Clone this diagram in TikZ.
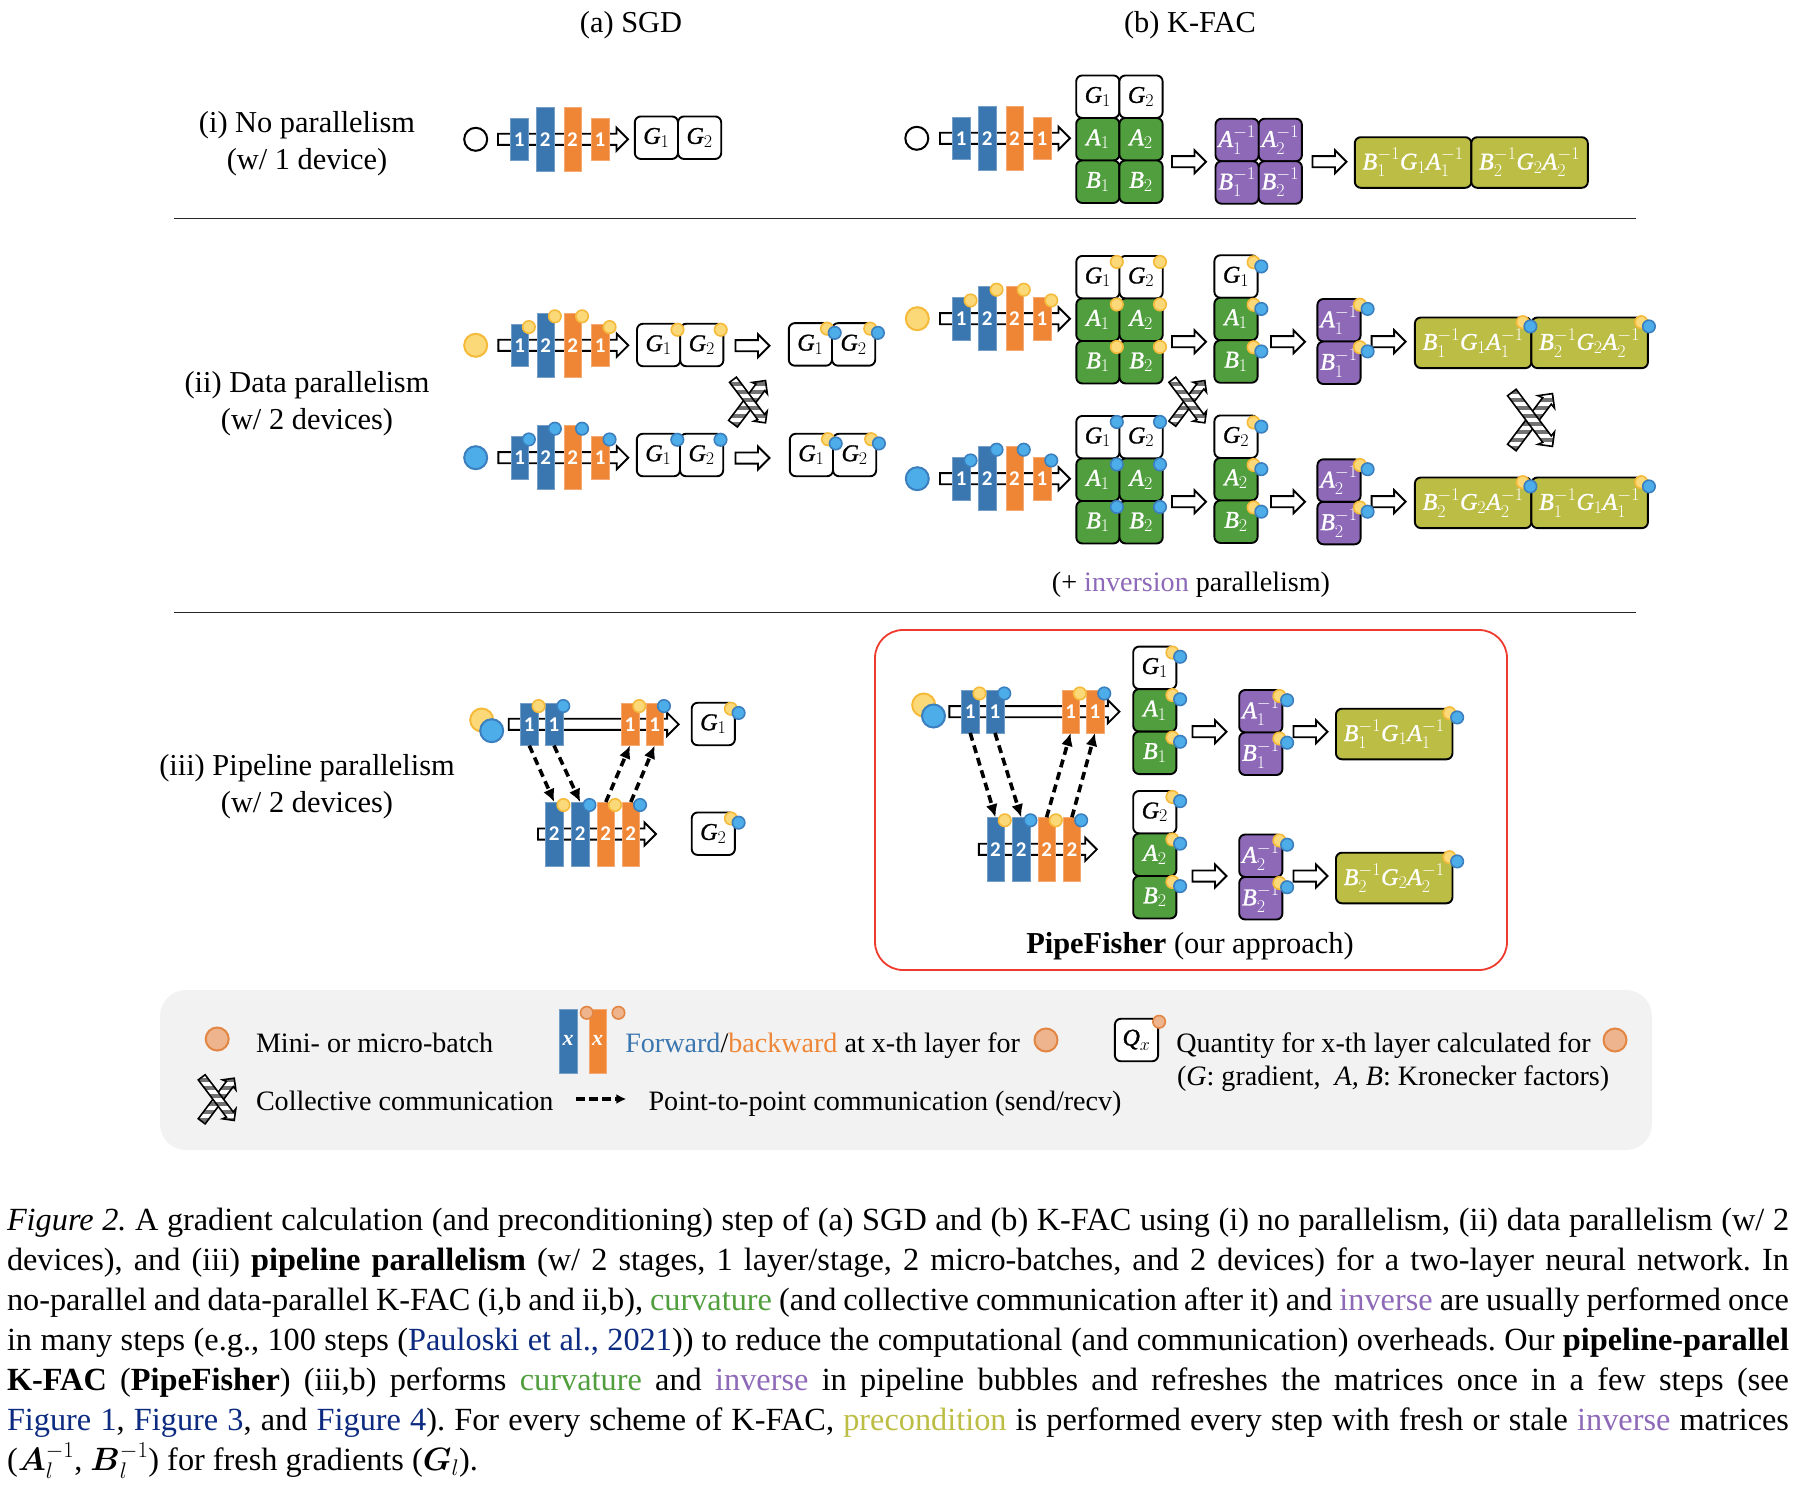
\documentclass[tikz,border=0pt]{standalone}
\usepackage{fix-cm}
\usepackage{amsmath}
\usepackage{fontspec}
\setmainfont{Liberation Serif}
\newfontfamily\barfont{Carlito}
\newfontfamily\qfam{Liberation Serif}[ItalicFeatures={FakeBold=1.2}]
\DeclareMathSizes{24}{24}{18}{14}
\usepackage{tikz}
\usetikzlibrary{matrix, calc, shapes.arrows, arrows.meta, patterns.meta}

\definecolor{fwdblue}{HTML}{3A76AF}
\definecolor{bwdorange}{HTML}{EF8636}
\definecolor{facgreen}{HTML}{519E3E}
\definecolor{invpurple}{HTML}{8D69B8}
\definecolor{preolive}{HTML}{BCBD45}
\definecolor{yelfill}{HTML}{FBD978}
\definecolor{yeledge}{HTML}{F6BA3A}
\definecolor{blufill}{HTML}{4CADE9}
\definecolor{bluedge}{HTML}{3C7FBF}
\definecolor{batfill}{HTML}{EDB48D}
\definecolor{batedge}{HTML}{E38543}
\definecolor{citeblue}{HTML}{0B2A80}
\definecolor{framered}{HTML}{EE3B2E}

% quantities in the boxes
\newcommand{\QL}[1]{\mbox{\qfam\itshape #1}}
\newcommand{\Qq}[2]{$\QL{#1}_{#2}$}
\newcommand{\Qi}[2]{$\QL{#1}_{#2}^{-1}$}
\newcommand{\Qp}[1]{\Qi{B}{#1}\Qq{G}{#1}\Qi{A}{#1}}

% the four bars of a plain forward/backward pass
\def\StdBars{1/21.3/fwd/1/42.5,2/47.3/fwd/2/64,3/74.5/bwd/2/64,4/102/bwd/1/42.5}

\newcommand{\Layers}[5]{%
  \node[harrow, minimum height=#4] (#1-a) at (#2,#3) {};
  \foreach \i/\o/\k/\n/\h in #5 {
    \node[\k, minimum height=\h] (#1-\i) at (#2+\o,#3) {\n};
  }
}
\newcommand{\BarBalls}[2]{%
  \foreach \i in {1,2,3,4} {
    \node[#2] (#1-\i-ball) at ([shift={(.5,3)}]#1-\i.north east) {};
  }
}
\newcommand{\DualBall}[3]{%
  \node[smyel] (#1-y) at ([shift={(#2,#3)}]#1.north east) {};
  \node[smblu] (#1-b) at ([shift={(#2+7.7,#3+4.2)}]#1.north east) {};
}
\newcommand{\XComm}[4]{%
  \begin{scope}[shift={(#2,#3)}, scale=#4, transform shape]
    \node[xarrow, rotate=53]  (#1-b) at (-16.7,22) {};
    \node[xarrow, rotate=-53] (#1-a) at (-16.7,-22) {};
  \end{scope}
}

\begin{document}
\begin{tikzpicture}[x=1pt, y=-1pt]
    \tikzset{
      lbl/.style={font=\fontsize{28.1}{36.7}\selectfont, inner sep=0, outer sep=0},
      biglbl/.style={font=\fontsize{30.4}{36.7}\selectfont, inner sep=0, outer sep=0},
      fwd/.style={fill=fwdblue, draw=fwdblue!70!white, line width=.5, minimum width=17.5,
        inner sep=0, outer sep=0, text=white, font=\barfont\bfseries\fontsize{21}{21}\selectfont},
      bwd/.style={fwd, fill=bwdorange, draw=bwdorange!70!white},
      harrow/.style={single arrow, draw=black, fill=white, line width=1.9, anchor=tail,
        inner xsep=0, inner ysep=4.6, outer sep=0,
        single arrow head extend=6, single arrow head indent=0, single arrow tip angle=90},
      xarrow/.style={single arrow, draw=black, line width=1.6, anchor=tail,
        minimum height=54, inner xsep=0, inner ysep=3.5, outer sep=0,
        single arrow head extend=4, single arrow head indent=1, single arrow tip angle=90,
        preaction={fill=white},
        pattern={Lines[angle=0, distance=8pt, line width=4pt]}, pattern color=black!55},
      bigyel/.style={circle, fill=yelfill, draw=yeledge, line width=2, minimum size=23, inner sep=0, outer sep=0},
      bigblu/.style={bigyel, fill=blufill, draw=bluedge},
      bigwht/.style={bigyel, fill=white, draw=black},
      bigbat/.style={bigyel, fill=batfill, draw=batedge},
      smyel/.style={circle, fill=yelfill, draw=yeledge, line width=1.6, minimum size=12.5, inner sep=0, outer sep=0},
      smblu/.style={smyel, fill=blufill, draw=bluedge},
      smbat/.style={smyel, fill=batfill, draw=batedge},
      gradq/.style={rectangle, draw=black, fill=white, line width=1.9, rounded corners=6,
        minimum width=43.2, minimum height=42.5, inner sep=0, outer sep=0, anchor=center,
        font=\fontsize{24}{24}\selectfont},
      facq/.style={gradq, fill=facgreen, text=white},
      invq/.style={gradq, fill=invpurple, text=white},
      preq/.style={gradq, fill=preolive, text=white, minimum width=116.5, minimum height=50.6},
      qmx/.style={matrix of nodes, inner sep=0, outer sep=0, row sep=-1.9, column sep=-1.9},
      gabmx/.style={qmx, row 1/.style={nodes=gradq}, row 2/.style={nodes=facq}, row 3/.style={nodes=facq}},
      gmx/.style={qmx, nodes=gradq},
      imx/.style={qmx, nodes=invq},
      pmx/.style={qmx, nodes=preq},
      p2p/.style={draw=black, line width=3.6, dash pattern=on 8pt off 5pt, -{Latex[length=13pt, width=12pt]}},
    }

    \useasboundingbox (0,0) rectangle (1796,1488);

    % backgrounds
    \node[fill=black!5, rounded corners=26, minimum width=1492, minimum height=160, inner sep=0, outer sep=0]
        (legend) at (906,1070) {};
    \node[draw=framered, line width=1.8, rounded corners=28, minimum width=632, minimum height=340, inner sep=0, outer sep=0]
        (frame) at (1191,800) {};

    % headings
    \node[biglbl] (sgd)  at (631,25)   {(a) SGD};
    \node[biglbl] (kfac) at (1190,25)  {(b) K-FAC};
    \node[biglbl, align=center] (nopar)   at (307,143.5) {(i) No parallelism\\(w/ 1 device)};
    \node[biglbl, align=center] (datapar) at (307,403.5) {(ii) Data parallelism\\(w/ 2 devices)};
    \node[biglbl, align=center] (pipepar) at (307,787) {(iii) Pipeline parallelism\\(w/ 2 devices)};

    \coordinate (rule1a) at (174,218.4);
    \coordinate (rule1b) at (1636,218.4);
    \coordinate (rule2a) at (174,612.5);
    \coordinate (rule2b) at (1636,612.5);
    \draw[black!85, line width=1.2] (rule1a) -- (rule1b);
    \draw[black!85, line width=1.2] (rule2a) -- (rule2b);

    % No parallelism
    \node[bigwht] (ia-c) at (475.7,139.3) {};
    \Layers{ia}{498}{139.3}{130}{\StdBars}
    \matrix (ia-g) at (678,137.7) [gmx] { \Qq{G}{1} & \Qq{G}{2} \\ };

    \node[bigwht] (ib-c) at (916.8,138.3) {};
    \Layers{ib}{940}{138.3}{130}{\StdBars}
    \matrix (ib-q) at (1119.4,139.2) [gabmx] {
        \Qq{G}{1} & \Qq{G}{2} \\
        \Qq{A}{1} & \Qq{A}{2} \\
        \Qq{B}{1} & \Qq{B}{2} \\
    };
    \node[harrow, minimum height=34] (ib-h1) at (1172,161.7) {};
    \matrix (ib-i) at (1258.7,161.2) [imx] {
        \Qi{A}{1} & \Qi{A}{2} \\
        \Qi{B}{1} & \Qi{B}{2} \\
    };
    \node[harrow, minimum height=34] (ib-h2) at (1312.5,161.7) {};
    \matrix (ib-p) at (1471.3,162.5) [pmx] { \Qp{1} & \Qp{2} \\ };

    % Data parallelism, SGD
    \node[bigyel] (iia-c1) at (475.7,345.3) {};
    \node[bigblu] (iia-c2) at (475.7,457.7) {};
    \Layers{iia1}{498.3}{345.3}{130}{\StdBars}
    \Layers{iia2}{498.3}{457.7}{130}{\StdBars}
    \BarBalls{iia1}{smyel}
    \BarBalls{iia2}{smblu}
    \matrix (iia-g1) at (680.2,345) [gmx] { \Qq{G}{1} & \Qq{G}{2} \\ };
    \matrix (iia-g2) at (680,455)   [gmx] { \Qq{G}{1} & \Qq{G}{2} \\ };
    \node[harrow, minimum height=34] (iia-h1) at (735.5,345.7) {};
    \node[harrow, minimum height=34] (iia-h2) at (735.5,458) {};
    \matrix (iia-r1) at (832,344.4) [gmx] { \Qq{G}{1} & \Qq{G}{2} \\ };
    \matrix (iia-r2) at (833,455)   [gmx] { \Qq{G}{1} & \Qq{G}{2} \\ };
    \foreach \c in {1,2} {
        \node[smyel] (iia-g1-ball\c) at ([shift={(-2.7,6)}]iia-g1-1-\c.north east) {};
        \node[smblu] (iia-g2-ball\c) at ([shift={(-2.7,6)}]iia-g2-1-\c.north east) {};
        \DualBall{iia-r1-1-\c}{-5}{5.5}
        \DualBall{iia-r2-1-\c}{-5}{5.5}
    }
    \XComm{iia-x}{749.7}{401.7}{1}

    % Data parallelism, K-FAC
    \node[bigyel] (iib-c1) at (917.3,318.7) {};
    \node[bigblu] (iib-c2) at (917.3,478.7) {};
    \Layers{iib1}{940}{318.7}{130}{\StdBars}
    \Layers{iib2}{940}{478.7}{130}{\StdBars}
    \BarBalls{iib1}{smyel}
    \BarBalls{iib2}{smblu}
    \matrix (iib-q1) at (1119.5,319.7) [gabmx] {
        \Qq{G}{1} & \Qq{G}{2} \\
        \Qq{A}{1} & \Qq{A}{2} \\
        \Qq{B}{1} & \Qq{B}{2} \\
    };
    \matrix (iib-q2) at (1119.5,479.7) [gabmx] {
        \Qq{G}{1} & \Qq{G}{2} \\
        \Qq{A}{1} & \Qq{A}{2} \\
        \Qq{B}{1} & \Qq{B}{2} \\
    };
    \foreach \r in {1,2,3} \foreach \c in {1,2} {
        \node[smyel] (iib-q1-ball\r\c) at ([shift={(-2.7,6)}]iib-q1-\r-\c.north east) {};
        \node[smblu] (iib-q2-ball\r\c) at ([shift={(-2.7,6)}]iib-q2-\r-\c.north east) {};
    }
    \matrix (iib-c1m) at (1236,319) [gabmx] { \Qq{G}{1} \\ \Qq{A}{1} \\ \Qq{B}{1} \\ };
    \matrix (iib-c2m) at (1236,479.2) [gabmx] { \Qq{G}{2} \\ \Qq{A}{2} \\ \Qq{B}{2} \\ };
    \matrix (iib-i1) at (1339,341.5) [imx] { \Qi{A}{1} \\ \Qi{B}{1} \\ };
    \matrix (iib-i2) at (1339,501.8) [imx] { \Qi{A}{2} \\ \Qi{B}{2} \\ };
    \matrix (iib-p1) at (1531.4,342.8) [pmx] { \Qp{1} & \Qp{2} \\ };
    \matrix (iib-p2) at (1531.4,502.8) [pmx] { \Qp{2} & \Qp{1} \\ };
    \foreach \d/\y in {1/341.7,2/501.7} {
        \node[harrow, minimum height=34] (iib-h1\d) at (1172,\y) {};
        \node[harrow, minimum height=34] (iib-h2\d) at (1271,\y) {};
        \node[harrow, minimum height=34] (iib-h3\d) at (1371.6,\y) {};
        \foreach \r in {1,2,3} {
            \DualBall{iib-c\d m-\r-1}{-4}{7}
        }
        \foreach \r in {1,2} {
            \DualBall{iib-i\d-\r-1}{-.7}{5.7}
        }
        \DualBall{iib-p\d-1-1}{-8.7}{4.7}
        \DualBall{iib-p\d-1-2}{-6.7}{4.7}
    }
    \XComm{iib-x1}{1189}{401.7}{1}
    \XComm{iib-x2}{1532.7}{420}{1.25}
    \node[lbl] (invpar) at (1191,584.5) {(+ \textcolor{invpurple}{inversion} parallelism)};

    % Pipeline parallelism, SGD
    \node[bigyel] (iiia-c1) at (481.7,720) {};
    \node[bigblu] (iiia-c2) at (491.7,730.7) {};
    \Layers{iiiau}{508.7}{724.3}{170}{{1/20.6/fwd/1/42.5,2/45.3/fwd/1/42.5,3/121.3/bwd/1/42.5,4/146/bwd/1/42.5}}
    \Layers{iiial}{538}{834}{118}{{1/16.2/fwd/2/64,2/42.2/fwd/2/64,3/67.8/bwd/2/64,4/92.8/bwd/2/64}}
    \foreach \i/\b in {1/smyel,2/smblu,3/smyel,4/smblu} {
        \node[\b] (iiiau-\i-ball) at ([shift={(.5,3)}]iiiau-\i.north east) {};
        \node[\b] (iiial-\i-ball) at ([shift={(.5,3)}]iiial-\i.north east) {};
    }
    \draw[p2p] (iiiau-1.south) -- (iiial-1.north);
    \draw[p2p] (iiiau-2.south) -- (iiial-2.north);
    \draw[p2p] (iiial-3.north) -- (iiiau-3.south);
    \draw[p2p] (iiial-4.north) -- (iiiau-4.south);
    \node[gradq] (iiia-g1) at (713.3,724)   {\Qq{G}{1}};
    \node[gradq] (iiia-g2) at (713.3,833.7) {\Qq{G}{2}};
    \DualBall{iiia-g1}{-4}{6}
    \DualBall{iiia-g2}{-4}{6}

    % PipeFisher
    \node[bigyel] (iiib-c1) at (923.7,705) {};
    \node[bigblu] (iiib-c2) at (933.5,716) {};
    \Layers{iiibu}{949.4}{711.7}{170}{{1/20.8/fwd/1/42.5,2/45.6/fwd/1/42.5,3/121.2/bwd/1/42.5,4/145.6/bwd/1/42.5}}
    \Layers{iiibl}{978.8}{849.3}{118}{{1/16.7/fwd/2/64,2/42.4/fwd/2/64,3/67.8/bwd/2/64,4/93.1/bwd/2/64}}
    \foreach \i/\b in {1/smyel,2/smblu,3/smyel,4/smblu} {
        \node[\b] (iiibu-\i-ball) at ([shift={(.5,3)}]iiibu-\i.north east) {};
        \node[\b] (iiibl-\i-ball) at ([shift={(.5,3)}]iiibl-\i.north east) {};
    }
    \draw[p2p] (iiibu-1.south) -- (iiibl-1.north);
    \draw[p2p] (iiibu-2.south) -- (iiibl-2.north);
    \draw[p2p] (iiibl-3.north) -- (iiibu-3.south);
    \draw[p2p] (iiibl-4.north) -- (iiibu-4.south);
    \matrix (iiib-c1m) at (1154.8,710.3) [gabmx] { \Qq{G}{1} \\ \Qq{A}{1} \\ \Qq{B}{1} \\ };
    \matrix (iiib-c2m) at (1154.8,854.7) [gabmx] { \Qq{G}{2} \\ \Qq{A}{2} \\ \Qq{B}{2} \\ };
    \matrix (iiib-i1)  at (1260.8,732.5) [imx] { \Qi{A}{1} \\ \Qi{B}{1} \\ };
    \matrix (iiib-i2)  at (1260.8,877)   [imx] { \Qi{A}{2} \\ \Qi{B}{2} \\ };
    \node[preq] (iiib-p1) at (1394.2,734) {\Qp{1}};
    \node[preq] (iiib-p2) at (1394.2,878) {\Qp{2}};
    \foreach \d/\y in {1/731.7,2/876} {
        \node[harrow, minimum height=34] (iiib-h1\d) at (1192.5,\y) {};
        \node[harrow, minimum height=34] (iiib-h2\d) at (1293.5,\y) {};
        \foreach \r in {1,2,3} {
            \DualBall{iiib-c\d m-\r-1}{-4}{6}
        }
        \foreach \r in {1,2} {
            \DualBall{iiib-i\d-\r-1}{-3}{6}
        }
        \DualBall{iiib-p\d}{-3}{4.5}
    }
    \node[biglbl] (pfname) at (1190,946) {\textbf{PipeFisher} (our approach)};

    % legend
    \node[bigbat] (lg-c1) at (217.2,1039) {};
    \node[lbl, anchor=base west] (lg-t1) at (256,1052) {Mini- or micro-batch};
    \node[fwd, minimum height=64, font=\rmfamily\bfseries\itshape\fontsize{22}{22}\selectfont] (lg-f) at (568,1040.8) {x};
    \node[bwd, minimum height=64, font=\rmfamily\bfseries\itshape\fontsize{22}{22}\selectfont] (lg-b) at (597.7,1040.8) {x};
    \node[smbat] (lg-fb) at ([shift={(10,4)}]lg-f.north east) {};
    \node[smbat] (lg-bb) at ([shift={(12,4)}]lg-b.north east) {};
    \node[lbl, anchor=base west] (lg-t2) at (625.3,1052)
        {\textcolor{fwdblue}{Forward}/\textcolor{bwdorange}{backward} at x-th layer for};
    \node[bigbat] (lg-c2) at (1046,1040) {};
    \node[gradq] (lg-q) at (1136.5,1040) {\Qq{Q}{x}};
    \node[smbat] (lg-qb) at ([shift={(1,3)}]lg-q.north east) {};
    \node[lbl, anchor=base west] (lg-t3) at (1176.3,1052) {Quantity for x-th layer calculated for};
    \node[bigbat] (lg-c3) at (1615,1040) {};
    \node[lbl, anchor=base west] (lg-t4) at (1177,1085) {(\textit{G}: gradient,\ \ \textit{A, B}: Kronecker factors)};
    \XComm{lg-x}{218.4}{1099.3}{1}
    \node[lbl, anchor=base west] (lg-t5) at (256,1110) {Collective communication};
    \coordinate (lg-s) at (576,1099);
    \coordinate (lg-e) at (626.3,1099);
    \draw[black, line width=3.5, dash pattern=on 9pt off 4pt, -{Latex[length=10pt, width=10pt]}] (lg-s) -- (lg-e);
    \node[lbl, anchor=base west] (lg-t6) at (648.6,1110) {Point-to-point communication (send/recv)};

    % caption
    \node[anchor=north west, text width=1782, align=justify, inner sep=0, outer sep=0,
          font=\fontsize{32.3}{40.1}\selectfont\frenchspacing] (cap) at (7,1207.5) {%
        \textit{Figure 2.} A gradient calculation (and preconditioning) step of (a) SGD and (b) K-FAC using (i) no parallelism, (ii) data parallelism (w/ 2\linebreak
        devices), and (iii) \textbf{pipeline parallelism} (w/ 2 stages, 1 layer/stage, 2 micro-batches, and 2 devices) for a two-layer neural network. In\linebreak
        no-parallel and data-parallel K-FAC (i,b and ii,b), \textcolor{facgreen}{curvature} (and collective communication after it) and \textcolor{invpurple}{inverse} are usually performed once\linebreak
        in many steps (e.g., 100 steps (\textcolor{citeblue}{Pauloski et al., 2021})) to reduce the computational (and communication) overheads. Our \textbf{pipeline-parallel}\linebreak
        \textbf{K-FAC} (\textbf{PipeFisher}) (iii,b) performs \textcolor{facgreen}{curvature} and \textcolor{invpurple}{inverse} in pipeline bubbles and refreshes the matrices once in a few steps (see\linebreak
        \textcolor{citeblue}{Figure 1}, \textcolor{citeblue}{Figure 3}, and \textcolor{citeblue}{Figure 4}). For every scheme of K-FAC, \textcolor{preolive}{precondition} is performed every step with fresh or stale \textcolor{invpurple}{inverse} matrices\linebreak
        ($\boldsymbol{A}_l^{-1}$, $\boldsymbol{B}_l^{-1}$) for fresh gradients ($\boldsymbol{G}_l$).};
\end{tikzpicture}
\end{document}
